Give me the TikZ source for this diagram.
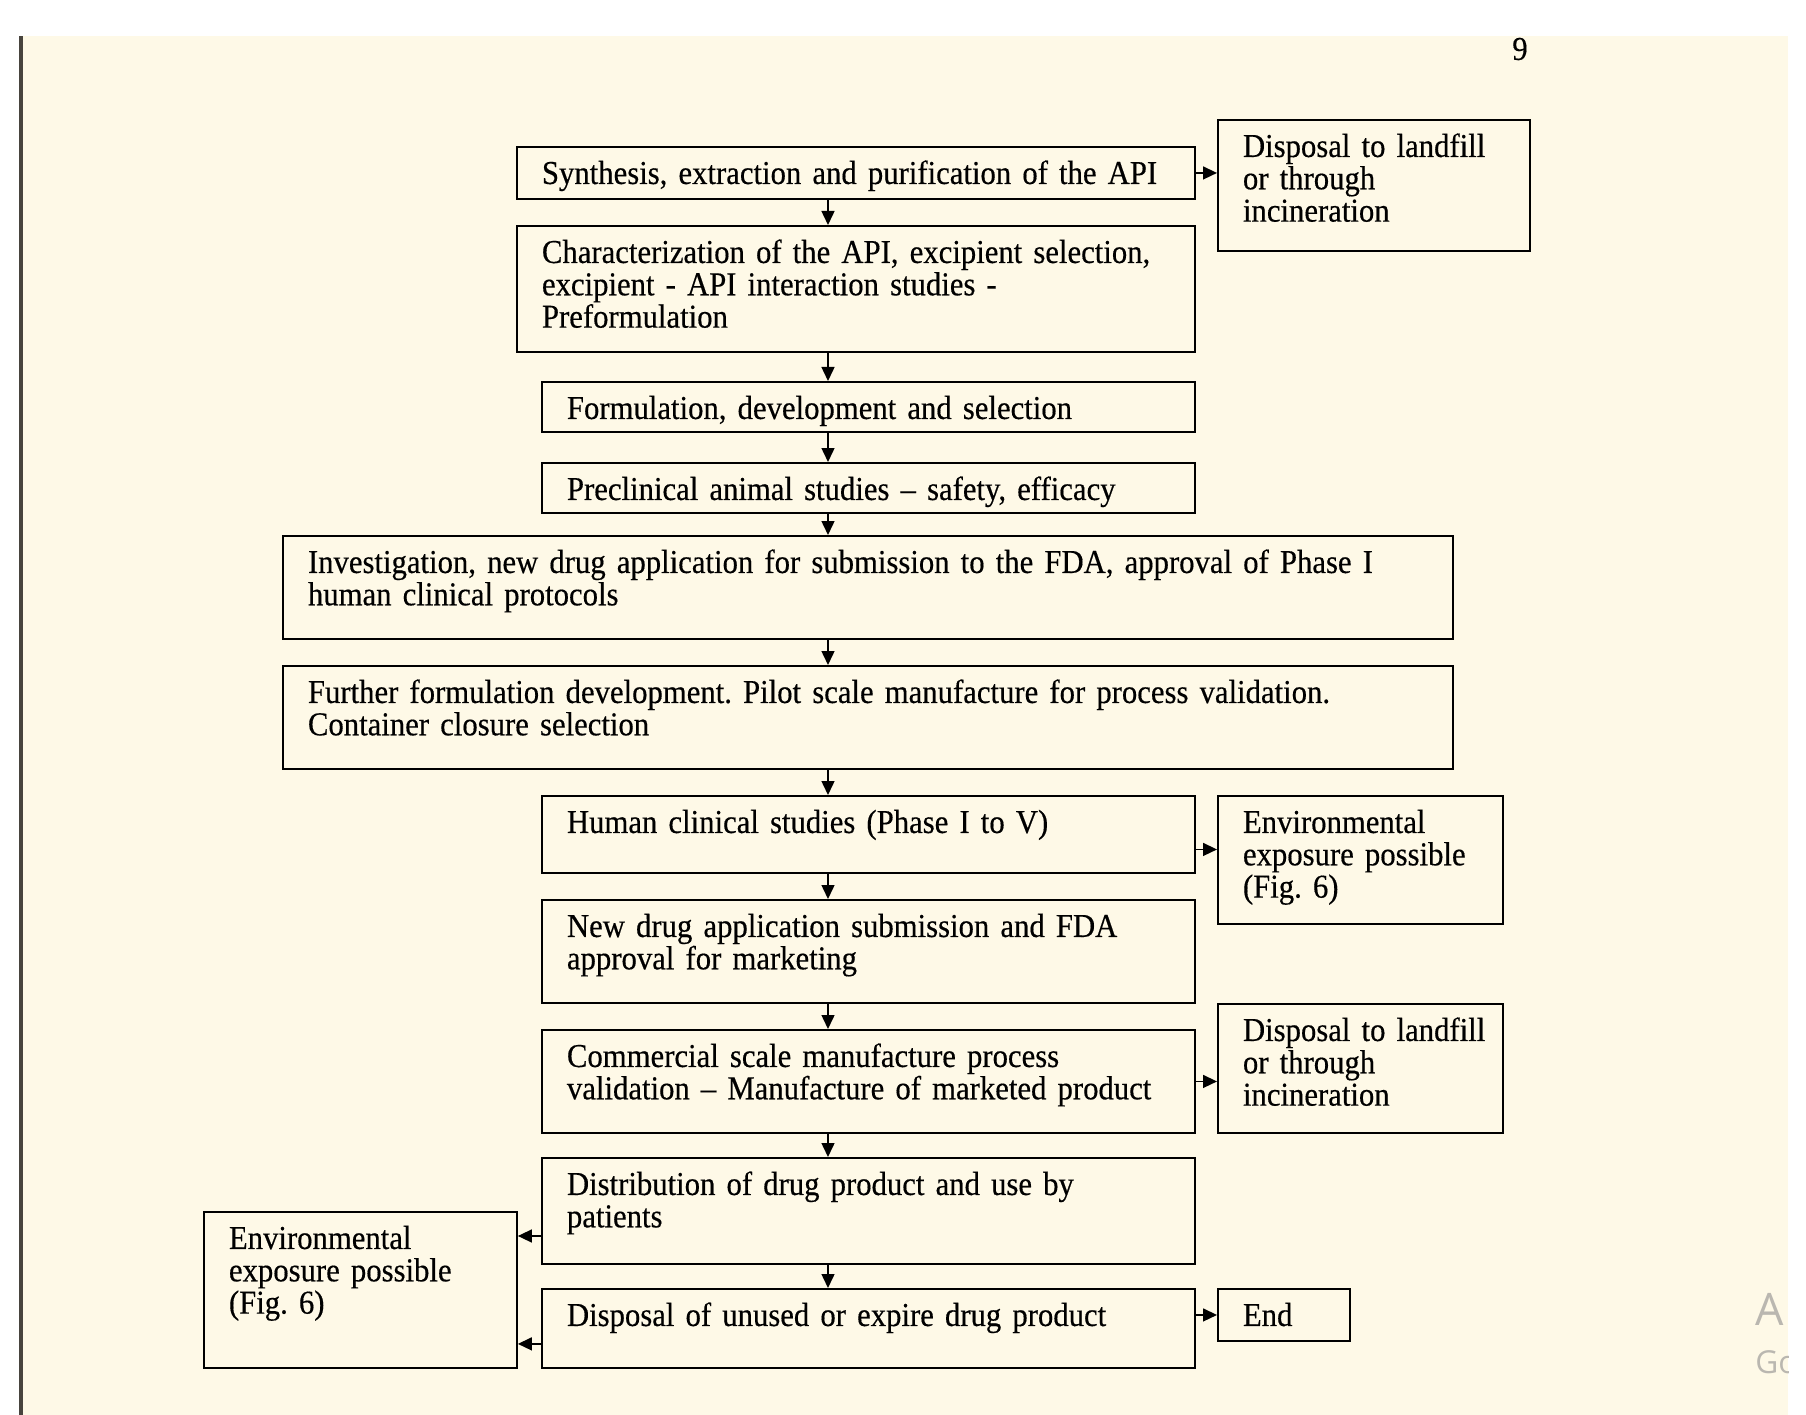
\documentclass[tikz,border=0pt]{standalone}
\usepackage{fontspec}
\setmainfont{Liberation Serif}[FakeStretch=0.92,FakeBold=0.4]
\newfontfamily\wmfont{Open Sans}
\usetikzlibrary{arrows.meta,calc}
\definecolor{cream}{RGB}{254,249,231}
\definecolor{rulegray}{RGB}{72,68,62}
\definecolor{wmgray}{RGB}{186,183,176}
\newcommand{\stepfont}{\fontsize{19pt}{18.4pt}\selectfont\frenchspacing
  \hyphenpenalty=10000\exhyphenpenalty=10000}

\begin{document}
\begin{tikzpicture}[
    x=0.02cm, y=-0.02cm,
    stepbox/.style 2 args={draw, line width=1.1pt, fill=cream, anchor=north west,
      inner xsep=0.5cm, inner ysep=0pt, align=left, font=\stepfont,
      text width=#1, text height=0.74cm, text depth=#2},
    arr/.style={-{Triangle[length=0.28cm,width=0.26cm]}, line width=0.85pt}
  ]
  \useasboundingbox (0,0) rectangle (1806,1415);
  \fill[white] (0,0) rectangle (1806,1415);
  \fill[cream] (23,36) rectangle (1788,1415);
  \fill[rulegray] (19,36) rectangle (23,1415);

  \node[font=\stepfont] (pageno) at (1520,49) {9};

  \node[stepbox={12.56cm}{0.30cm}] (synth) at (516,146)
    {Synthesis, extraction and purification~of~the~API};
  \node[stepbox={12.56cm}{1.78cm}] (charac) at (516,225)
    {Characterization of the API, excipient~selection,\\
     excipient - API interaction studies -\\
     Preformulation};
  \node[stepbox={12.06cm}{0.26cm}] (formul) at (541,381)
    {Formulation, development and selection};
  \node[stepbox={12.06cm}{0.26cm}] (precl) at (541,462)
    {Preclinical animal studies – safety, efficacy};
  \node[stepbox={22.40cm}{1.32cm}] (invest) at (282,535)
    {Investigation, new drug application for submission to the FDA, approval of~Phase~I\\
     human clinical protocols};
  \node[stepbox={22.40cm}{1.32cm}] (further) at (282,665)
    {Further formulation development. Pilot scale manufacture for process~validation.\\
     Container closure selection};
  \node[stepbox={12.06cm}{0.80cm}] (human) at (541,795)
    {Human clinical studies (Phase I to V)};
  \node[stepbox={12.06cm}{1.32cm}] (newdrug) at (541,899)
    {New drug application submission and FDA\\
     approval for marketing};
  \node[stepbox={12.06cm}{1.32cm}] (commerc) at (541,1029)
    {Commercial scale manufacture process\\
     validation – Manufacture of marketed~product};
  \node[stepbox={12.06cm}{1.38cm}] (distrib) at (541,1157)
    {Distribution of drug product and use by\\
     patients};
  \node[stepbox={12.06cm}{0.84cm}] (unused) at (541,1288)
    {Disposal of unused or expire drug product};

  \node[stepbox={5.24cm}{1.88cm}] (dispA) at (1217,119)
    {Disposal~to~landfill\\ or through\\ incineration};
  \node[stepbox={4.70cm}{1.82cm}] (envA) at (1217,795)
    {Environmental\\ exposure~possible\\ (Fig. 6)};
  \node[stepbox={4.70cm}{1.84cm}] (dispB) at (1217,1003)
    {Disposal~to~landfill\\ or through\\ incineration};
  \node[stepbox={5.26cm}{2.38cm}] (envB) at (203,1211)
    {Environmental\\ exposure~possible\\ (Fig. 6)};
  \node[stepbox={1.64cm}{0.30cm}] (finish) at (1217,1288) {End};

  \coordinate (spine) at (828,0);
  \foreach \a/\b in {synth/charac,charac/formul,formul/precl,precl/invest,
                     invest/further,further/human,human/newdrug,newdrug/commerc,
                     commerc/distrib,distrib/unused}
    \draw[arr] (\a.south -| spine) -- (\b.north -| spine);

  \coordinate (humanout) at ($(human.east)+(0,15)$);
  \coordinate (envBtop) at ($(envB.north east)+(0,25)$);
  \coordinate (envBbot) at ($(envB.south east)+(0,-25)$);
  \draw[arr] (synth.east) -- (synth.east -| dispA.west);
  \draw[arr] (humanout) -- (humanout -| envA.west);
  \draw[arr] (commerc.east) -- (commerc.east -| dispB.west);
  \draw[arr] (distrib.west |- envBtop) -- (envBtop);
  \draw[arr] (unused.west |- envBbot) -- (envBbot);
  \draw[arr] (unused.east |- finish.west) -- (finish.west);

  \begin{scope}
    \clip (23,36) rectangle (1788,1415);
    \node[font=\wmfont\fontsize{25.5pt}{28pt}\selectfont, text=wmgray, anchor=base west,
      inner sep=0pt] (wmA) at (1755,1325) {A};
    \node[font=\wmfont\fontsize{18pt}{20pt}\selectfont, text=wmgray, anchor=base west,
      inner sep=0pt] (wmB) at (1755,1373) {Go};
  \end{scope}
\end{tikzpicture}
\end{document}
